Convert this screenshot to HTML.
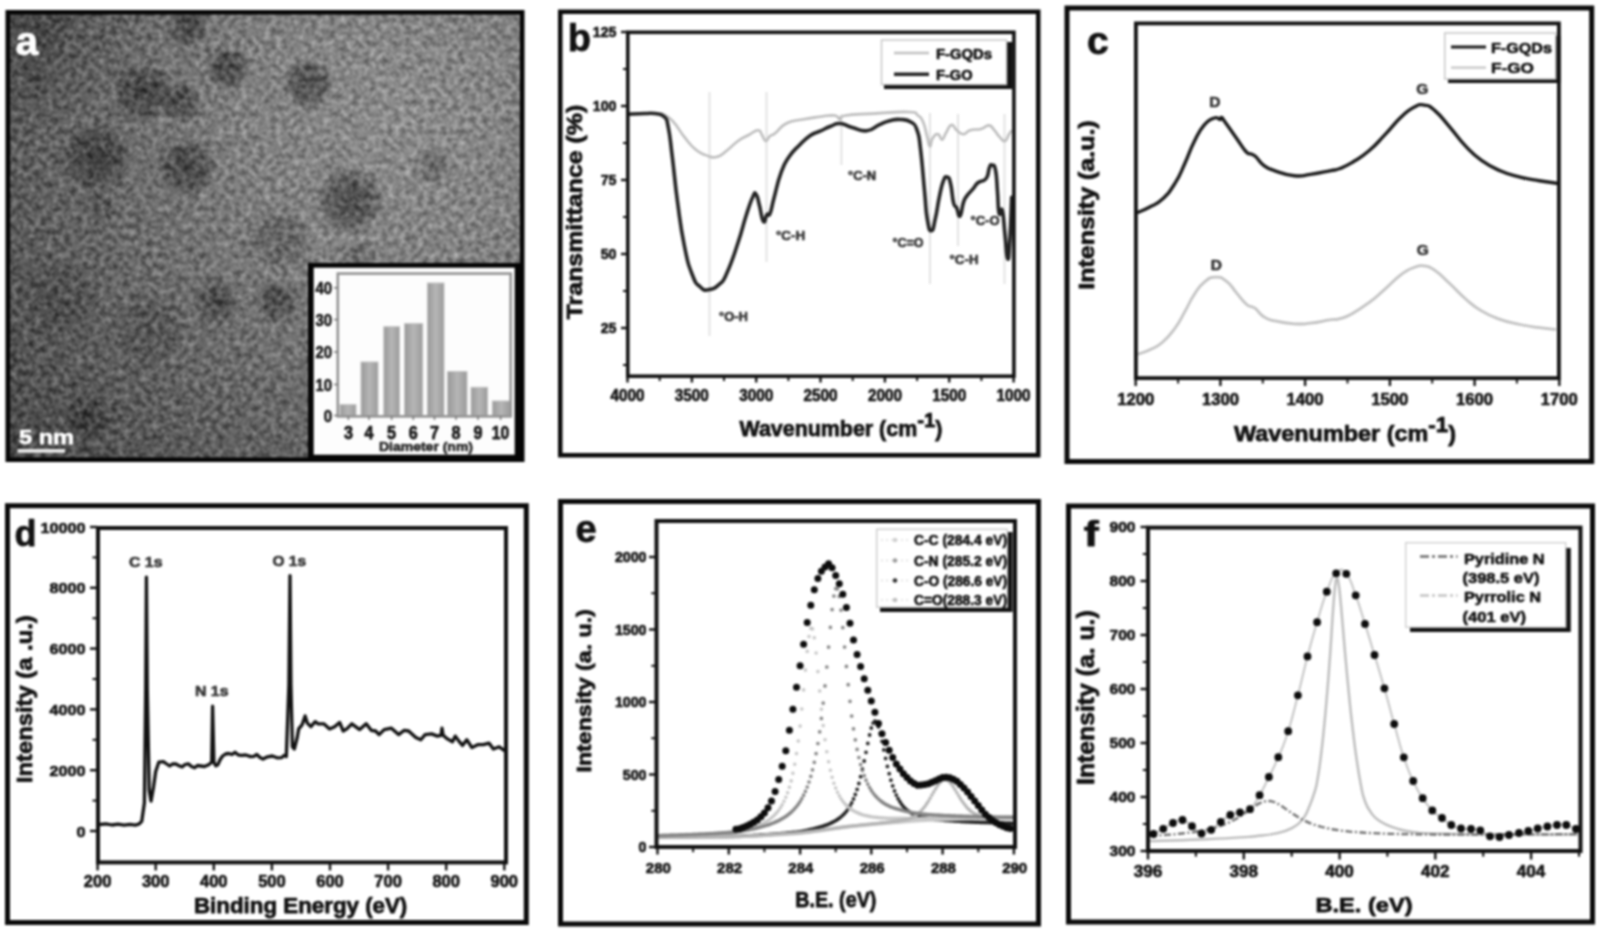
<!DOCTYPE html>
<html lang="en"><head><meta charset="utf-8"><title>F-GQDs characterization figure</title>
<style>
html,body{margin:0;padding:0;background:#fff;}
body{width:1600px;height:932px;overflow:hidden;font-family:'Liberation Sans', sans-serif;}
svg{display:block;font-family:'Liberation Sans', sans-serif;filter:blur(0.85px);}
</style></head><body>
<svg width="1600" height="932" viewBox="0 0 1600 932">
<defs>
<radialGradient id="temg" gradientUnits="userSpaceOnUse" cx="405" cy="120" r="530">
 <stop offset="0" stop-color="#8c8c8c"/><stop offset="0.3" stop-color="#808080"/>
 <stop offset="0.55" stop-color="#6b6b6b"/><stop offset="0.8" stop-color="#575757"/><stop offset="1" stop-color="#464646"/>
</radialGradient>
<radialGradient id="blobm"><stop offset="0" stop-color="#222" stop-opacity="0.5"/>
 <stop offset="0.55" stop-color="#262626" stop-opacity="0.36"/><stop offset="1" stop-color="#444" stop-opacity="0"/></radialGradient>
<radialGradient id="vig" cx="0" cy="0" r="1"><stop offset="0" stop-color="#222" stop-opacity="0.3"/><stop offset="1" stop-color="#222" stop-opacity="0"/></radialGradient>
<radialGradient id="blob"><stop offset="0" stop-color="#222" stop-opacity="0.55"/>
 <stop offset="0.6" stop-color="#262626" stop-opacity="0.43"/><stop offset="0.85" stop-color="#333" stop-opacity="0.2"/><stop offset="1" stop-color="#444" stop-opacity="0"/></radialGradient>
<radialGradient id="blobf"><stop offset="0" stop-color="#3a3a3a" stop-opacity="0.38"/>
 <stop offset="0.6" stop-color="#3a3a3a" stop-opacity="0.28"/><stop offset="1" stop-color="#444" stop-opacity="0"/></radialGradient>
<filter id="grain" x="0" y="0" width="100%" height="100%" color-interpolation-filters="sRGB">
 <feTurbulence type="fractalNoise" baseFrequency="0.17 0.17" numOctaves="2" seed="7" result="t"/>
 <feColorMatrix in="t" type="matrix" values="1 0 0 0 0  1 0 0 0 0  1 0 0 0 0  0 0 0 0 1" result="g"/>
 <feGaussianBlur in="g" stdDeviation="0.55" result="gb"/>
 <feComposite in="SourceGraphic" in2="gb" operator="arithmetic" k1="0" k2="1" k3="0.5" k4="-0.25"/>
</filter>
<linearGradient id="barg"><stop offset="0" stop-color="#989898"/><stop offset="0.5" stop-color="#b6b6b6"/><stop offset="1" stop-color="#9a9a9a"/></linearGradient>
<clipPath id="clipa"><rect x="9" y="13" width="512" height="446"/></clipPath>
</defs>
<g id="panel-a">
<g clip-path="url(#clipa)"><g filter="url(#grain)">
<rect x="5" y="9" width="520" height="454" fill="url(#temg)"/>
<rect x="5" y="9" width="160" height="140" fill="url(#vig)"/>
<circle cx="188" cy="26" r="22" fill="url(#blob)"/>
<circle cx="228" cy="68" r="23" fill="url(#blob)"/>
<circle cx="143" cy="92" r="31" fill="url(#blob)"/>
<circle cx="180" cy="101" r="21" fill="url(#blob)"/>
<circle cx="308" cy="84" r="26" fill="url(#blob)"/>
<circle cx="97" cy="157" r="36" fill="url(#blob)"/>
<circle cx="187" cy="167" r="31" fill="url(#blob)"/>
<circle cx="350" cy="200" r="35" fill="url(#blob)"/>
<circle cx="217" cy="301" r="25" fill="url(#blobm)"/>
<circle cx="277" cy="301" r="25" fill="url(#blobm)"/>
<circle cx="88" cy="418" r="28" fill="url(#blobm)"/>
<circle cx="433" cy="165" r="20" fill="url(#blobf)"/>
<circle cx="280" cy="238" r="34" fill="url(#blobf)"/>
<circle cx="360" cy="257" r="17" fill="url(#blobf)"/>
<circle cx="100" cy="208" r="18" fill="url(#blobf)"/>
<circle cx="33" cy="77" r="20" fill="url(#blobf)"/>
<circle cx="45" cy="30" r="30" fill="url(#blobf)"/>
<circle cx="150" cy="330" r="40" fill="url(#blobf)"/>
<circle cx="60" cy="300" r="45" fill="url(#blobf)"/>
</g></g>
<rect x="7.80" y="12.30" width="514.40" height="447.40" fill="none" stroke="#050505" stroke-width="4.6"/>
<text x="15.5" y="54.5" font-size="41" font-weight="bold" fill="#fff" stroke="#fff" stroke-width="0.75" stroke-linejoin="round" text-anchor="start" >a</text>
<text x="19" y="444" font-size="21" font-weight="bold" fill="#fff" stroke="#fff" stroke-width="0.75" stroke-linejoin="round" text-anchor="start" textLength="55" lengthAdjust="spacingAndGlyphs" >5 nm</text>
<rect x="17.5" y="449" width="47.5" height="3.8" fill="#e6e6e6"/>
<rect x="308" y="263" width="216" height="199" fill="#050505"/>
<rect x="313.7" y="267.7" width="201" height="187" fill="#fdfdfd"/>
<rect x="340" y="404.6" width="16.0" height="11.0" fill="url(#barg)" stroke="#c4c4c4" stroke-width="1"/>
<rect x="361" y="362" width="17.0" height="53.6" fill="url(#barg)" stroke="#c4c4c4" stroke-width="1"/>
<rect x="383.8" y="326.7" width="15.8" height="88.9" fill="url(#barg)" stroke="#c4c4c4" stroke-width="1"/>
<rect x="404.5" y="323.6" width="18.2" height="92.0" fill="url(#barg)" stroke="#c4c4c4" stroke-width="1"/>
<rect x="427.4" y="283" width="16.6" height="132.6" fill="url(#barg)" stroke="#c4c4c4" stroke-width="1"/>
<rect x="447.5" y="371.5" width="19.5" height="44.1" fill="url(#barg)" stroke="#c4c4c4" stroke-width="1"/>
<rect x="471" y="387.3" width="16.6" height="28.3" fill="url(#barg)" stroke="#c4c4c4" stroke-width="1"/>
<rect x="492.3" y="401" width="17.7" height="14.6" fill="url(#barg)" stroke="#c4c4c4" stroke-width="1"/>
<rect x="337.8" y="273.6" width="172.9" height="142.8" fill="none" stroke="#939393" stroke-width="2.6"/>
<text x="332" y="293.8" font-size="17" font-weight="bold" fill="#1a1a1a" stroke="#1a1a1a" stroke-width="0.6" stroke-linejoin="round" text-anchor="end" textLength="16.5" lengthAdjust="spacingAndGlyphs" >40</text>
<line x1="334" y1="287.8" x2="338" y2="287.8" stroke="#777" stroke-width="1.5"/>
<text x="332" y="325.6" font-size="17" font-weight="bold" fill="#1a1a1a" stroke="#1a1a1a" stroke-width="0.6" stroke-linejoin="round" text-anchor="end" textLength="16.5" lengthAdjust="spacingAndGlyphs" >30</text>
<line x1="334" y1="319.6" x2="338" y2="319.6" stroke="#777" stroke-width="1.5"/>
<text x="332" y="358" font-size="17" font-weight="bold" fill="#1a1a1a" stroke="#1a1a1a" stroke-width="0.6" stroke-linejoin="round" text-anchor="end" textLength="16.5" lengthAdjust="spacingAndGlyphs" >20</text>
<line x1="334" y1="352" x2="338" y2="352" stroke="#777" stroke-width="1.5"/>
<text x="332" y="390.5" font-size="17" font-weight="bold" fill="#1a1a1a" stroke="#1a1a1a" stroke-width="0.6" stroke-linejoin="round" text-anchor="end" textLength="16.5" lengthAdjust="spacingAndGlyphs" >10</text>
<line x1="334" y1="384.5" x2="338" y2="384.5" stroke="#777" stroke-width="1.5"/>
<text x="332" y="421.5" font-size="17" font-weight="bold" fill="#1a1a1a" stroke="#1a1a1a" stroke-width="0.6" stroke-linejoin="round" text-anchor="end" textLength="8.3" lengthAdjust="spacingAndGlyphs" >0</text>
<line x1="334" y1="415.5" x2="338" y2="415.5" stroke="#777" stroke-width="1.5"/>
<text x="348.4" y="438.5" font-size="18" font-weight="bold" fill="#1a1a1a" stroke="#1a1a1a" stroke-width="0.75" stroke-linejoin="round" text-anchor="middle" textLength="9" lengthAdjust="spacingAndGlyphs" >3</text>
<line x1="348.4" y1="416" x2="348.4" y2="420" stroke="#777" stroke-width="1.5"/>
<text x="369" y="438.5" font-size="18" font-weight="bold" fill="#1a1a1a" stroke="#1a1a1a" stroke-width="0.75" stroke-linejoin="round" text-anchor="middle" textLength="9" lengthAdjust="spacingAndGlyphs" >4</text>
<line x1="369" y1="416" x2="369" y2="420" stroke="#777" stroke-width="1.5"/>
<text x="391.6" y="438.5" font-size="18" font-weight="bold" fill="#1a1a1a" stroke="#1a1a1a" stroke-width="0.75" stroke-linejoin="round" text-anchor="middle" textLength="9" lengthAdjust="spacingAndGlyphs" >5</text>
<line x1="391.6" y1="416" x2="391.6" y2="420" stroke="#777" stroke-width="1.5"/>
<text x="413.3" y="438.5" font-size="18" font-weight="bold" fill="#1a1a1a" stroke="#1a1a1a" stroke-width="0.75" stroke-linejoin="round" text-anchor="middle" textLength="9" lengthAdjust="spacingAndGlyphs" >6</text>
<line x1="413.3" y1="416" x2="413.3" y2="420" stroke="#777" stroke-width="1.5"/>
<text x="434.5" y="438.5" font-size="18" font-weight="bold" fill="#1a1a1a" stroke="#1a1a1a" stroke-width="0.75" stroke-linejoin="round" text-anchor="middle" textLength="9" lengthAdjust="spacingAndGlyphs" >7</text>
<line x1="434.5" y1="416" x2="434.5" y2="420" stroke="#777" stroke-width="1.5"/>
<text x="456" y="438.5" font-size="18" font-weight="bold" fill="#1a1a1a" stroke="#1a1a1a" stroke-width="0.75" stroke-linejoin="round" text-anchor="middle" textLength="9" lengthAdjust="spacingAndGlyphs" >8</text>
<line x1="456" y1="416" x2="456" y2="420" stroke="#777" stroke-width="1.5"/>
<text x="478" y="438.5" font-size="18" font-weight="bold" fill="#1a1a1a" stroke="#1a1a1a" stroke-width="0.75" stroke-linejoin="round" text-anchor="middle" textLength="9" lengthAdjust="spacingAndGlyphs" >9</text>
<line x1="478" y1="416" x2="478" y2="420" stroke="#777" stroke-width="1.5"/>
<text x="500.6" y="438.5" font-size="18" font-weight="bold" fill="#1a1a1a" stroke="#1a1a1a" stroke-width="0.75" stroke-linejoin="round" text-anchor="middle" textLength="17.5" lengthAdjust="spacingAndGlyphs" >10</text>
<line x1="500.6" y1="416" x2="500.6" y2="420" stroke="#777" stroke-width="1.5"/>
<text x="426" y="451" font-size="12.5" font-weight="bold" fill="#2a2a2a" stroke="#2a2a2a" stroke-width="0.6" stroke-linejoin="round" text-anchor="middle" textLength="94" lengthAdjust="spacingAndGlyphs" >Diameter (nm)</text>
</g>
<g id="panel-b">
<rect x="560.25" y="11.75" width="478.00" height="443.50" fill="none" stroke="#0a0a0a" stroke-width="4.5"/>
<line x1="709.5" y1="92" x2="709.5" y2="336" stroke="#e0e0e0" stroke-width="1.8"/>
<line x1="766.5" y1="92" x2="766.5" y2="262" stroke="#e0e0e0" stroke-width="1.8"/>
<line x1="841.4" y1="114" x2="841.4" y2="165" stroke="#e0e0e0" stroke-width="1.8"/>
<line x1="930" y1="113" x2="930" y2="284" stroke="#e0e0e0" stroke-width="1.8"/>
<line x1="958" y1="114" x2="958" y2="246" stroke="#e0e0e0" stroke-width="1.8"/>
<line x1="1004.5" y1="114" x2="1004.5" y2="284" stroke="#e0e0e0" stroke-width="1.8"/>
<path d="M629.4,114.1 C636.2,114.0 645.6,113.4 654.9,113.6 C664.2,113.8 659.2,112.4 664.2,114.7 C669.2,117.0 668.2,116.3 673.6,122.2 C679.0,128.1 678.6,129.8 684.3,136.9 C690.0,144.0 689.3,144.1 695.0,149.0 C700.7,153.9 700.1,153.0 705.8,155.1 C711.5,157.2 710.8,158.3 716.5,157.0 C722.2,155.7 721.5,154.6 727.2,150.3 C732.9,146.0 732.3,145.1 738.0,141.0 C743.7,136.9 743.4,137.9 748.7,135.0 C754.0,132.1 754.5,130.2 758.0,130.2 C761.5,130.2 760.0,132.1 762.0,135.0 C764.0,137.9 763.5,140.7 765.6,141.0 C767.7,141.3 767.4,138.2 770.0,136.1 C772.6,134.0 771.2,136.4 775.5,133.0 C779.8,129.6 779.1,127.1 786.2,123.5 C793.3,119.9 793.3,121.3 802.3,119.5 C811.3,117.7 811.4,117.9 820.0,116.8 C828.6,115.7 829.3,114.8 834.7,115.5 C840.1,116.2 837.2,119.5 840.1,119.5 C843.0,119.5 836.6,117.1 845.5,115.5 C854.4,113.9 856.8,114.5 873.6,113.6 C890.4,112.7 896.7,111.5 908.5,112.0 C920.3,112.5 914.0,112.8 917.9,115.5 C921.8,118.2 920.7,116.5 923.2,122.2 C925.7,127.9 925.4,130.5 927.2,136.9 C929.0,143.3 928.5,145.9 929.9,146.3 C931.3,146.7 930.4,141.5 932.6,138.3 C934.8,135.1 935.5,133.9 938.0,134.2 C940.5,134.5 939.9,139.9 942.0,139.6 C944.1,139.3 943.5,136.8 946.0,132.9 C948.5,129.0 948.5,125.6 951.4,124.9 C954.3,124.2 953.5,127.7 956.7,130.2 C959.9,132.7 959.8,134.2 963.4,134.2 C967.0,134.2 965.4,131.6 970.1,130.2 C974.8,128.8 975.9,130.2 980.9,128.9 C985.9,127.6 985.3,125.1 988.9,125.4 C992.5,125.7 991.4,127.1 994.3,130.2 C997.2,133.3 996.7,134.0 999.6,136.9 C1002.5,139.8 1002.5,141.7 1005.0,141.0 C1007.5,140.3 1007.2,137.1 1009.0,134.2 C1010.8,131.3 1011.0,131.3 1011.7,130.2" fill="none" stroke="#bdbdbd" stroke-width="2.6" stroke-linejoin="round"/>
<path d="M629.4,114.1 C633.6,113.9 638.2,113.6 645.0,113.5 C651.8,113.4 649.8,112.7 654.9,113.6 C660.0,114.5 660.6,113.1 664.2,116.8 C667.8,120.5 666.1,116.8 668.3,127.5 C670.5,138.2 669.8,137.0 672.3,157.0 C674.8,177.0 674.4,179.0 677.6,202.6 C680.8,226.2 680.4,226.2 684.3,245.5 C688.2,264.8 688.1,263.9 692.4,275.0 C696.7,286.1 696.1,283.1 700.4,287.0 C704.7,290.9 703.5,290.4 708.5,289.7 C713.5,289.0 714.2,289.0 719.2,284.4 C724.2,279.8 722.2,283.4 727.2,272.3 C732.2,261.2 733.0,257.8 738.0,242.8 C743.0,227.8 742.1,228.2 746.0,216.0 C749.9,203.8 750.0,202.9 752.7,197.2 C755.4,191.5 754.4,192.4 756.2,194.6 C758.0,196.8 757.5,198.2 759.4,205.3 C761.3,212.4 761.4,218.9 763.4,221.4 C765.4,223.9 765.1,216.9 766.9,214.7 C768.7,212.5 768.2,218.0 770.1,213.3 C772.0,208.6 771.3,207.9 774.2,197.2 C777.1,186.5 777.0,183.8 780.9,173.1 C784.8,162.4 783.9,164.5 788.9,157.0 C793.9,149.5 793.9,150.7 799.6,145.0 C805.3,139.3 804.9,139.3 810.3,135.6 C815.7,131.9 814.6,133.7 820.0,131.2 C825.4,128.7 825.3,128.3 830.7,126.2 C836.1,124.1 834.4,123.2 840.1,123.5 C845.8,123.8 845.1,125.6 852.2,127.5 C859.3,129.4 859.8,131.5 866.9,130.8 C874.0,130.1 872.9,127.6 879.0,124.9 C885.1,122.2 884.0,122.2 889.7,120.8 C895.4,119.4 894.7,119.1 900.4,119.5 C906.1,119.9 906.8,119.3 911.2,122.2 C915.6,125.1 914.5,123.1 917.0,130.2 C919.5,137.3 918.5,132.5 920.5,149.0 C922.5,165.5 922.8,173.3 924.6,191.9 C926.4,210.5 925.4,208.3 927.2,218.7 C929.0,229.1 929.1,230.8 931.3,230.8 C933.5,230.8 933.2,227.7 935.3,218.7 C937.4,209.7 937.2,207.2 939.3,197.2 C941.4,187.2 941.2,186.6 943.3,181.2 C945.4,175.8 945.4,176.4 947.3,177.1 C949.2,177.8 948.9,177.0 950.6,183.8 C952.3,190.6 951.9,196.1 953.5,202.6 C955.1,209.1 955.0,204.4 956.7,208.0 C958.4,211.6 958.2,217.4 960.0,216.0 C961.8,214.6 961.6,208.0 963.4,202.6 C965.2,197.2 964.4,199.5 966.9,195.9 C969.4,192.3 969.8,192.8 972.8,189.2 C975.8,185.6 974.6,185.4 978.2,182.5 C981.8,179.6 983.2,182.4 986.2,178.5 C989.2,174.6 987.8,171.3 989.4,167.7 C991.0,164.1 990.4,164.4 992.1,165.1 C993.8,165.8 994.2,163.3 995.6,170.4 C997.0,177.5 996.6,180.5 997.5,191.9 C998.4,203.3 997.8,208.3 999.1,213.3 C1000.4,218.3 1000.7,204.9 1002.3,210.6 C1003.9,216.3 1003.6,221.9 1005.0,234.8 C1006.4,247.7 1006.4,257.5 1007.7,258.9 C1009.0,260.3 1008.7,256.6 1009.8,240.1 C1010.9,223.6 1011.2,208.6 1011.7,197.2" fill="none" stroke="#222" stroke-width="3.6" stroke-linejoin="round" stroke-linecap="round"/>
<rect x="627.80" y="32.30" width="386.10" height="343.90" fill="none" stroke="#111" stroke-width="3.6"/>
<line x1="621.0" y1="32.0" x2="627.0" y2="32.0" stroke="#111" stroke-width="2.4"/>
<line x1="621.0" y1="106.0" x2="627.0" y2="106.0" stroke="#111" stroke-width="2.4"/>
<line x1="621.0" y1="180.0" x2="627.0" y2="180.0" stroke="#111" stroke-width="2.4"/>
<line x1="621.0" y1="254.0" x2="627.0" y2="254.0" stroke="#111" stroke-width="2.4"/>
<line x1="621.0" y1="328.0" x2="627.0" y2="328.0" stroke="#111" stroke-width="2.4"/>
<line x1="623.0" y1="69.0" x2="627.0" y2="69.0" stroke="#111" stroke-width="2"/>
<line x1="623.0" y1="143.0" x2="627.0" y2="143.0" stroke="#111" stroke-width="2"/>
<line x1="623.0" y1="217.0" x2="627.0" y2="217.0" stroke="#111" stroke-width="2"/>
<line x1="623.0" y1="291.0" x2="627.0" y2="291.0" stroke="#111" stroke-width="2"/>
<line x1="623.0" y1="365.0" x2="627.0" y2="365.0" stroke="#111" stroke-width="2"/>
<line x1="627.5" y1="377.0" x2="627.5" y2="382.5" stroke="#111" stroke-width="2.4"/>
<line x1="691.9" y1="377.0" x2="691.9" y2="382.5" stroke="#111" stroke-width="2.4"/>
<line x1="756.2" y1="377.0" x2="756.2" y2="382.5" stroke="#111" stroke-width="2.4"/>
<line x1="820.5" y1="377.0" x2="820.5" y2="382.5" stroke="#111" stroke-width="2.4"/>
<line x1="884.9" y1="377.0" x2="884.9" y2="382.5" stroke="#111" stroke-width="2.4"/>
<line x1="949.2" y1="377.0" x2="949.2" y2="382.5" stroke="#111" stroke-width="2.4"/>
<line x1="1013.6" y1="377.0" x2="1013.6" y2="382.5" stroke="#111" stroke-width="2.4"/>
<line x1="659.7" y1="377.0" x2="659.7" y2="381.0" stroke="#111" stroke-width="2"/>
<line x1="724.0" y1="377.0" x2="724.0" y2="381.0" stroke="#111" stroke-width="2"/>
<line x1="788.4" y1="377.0" x2="788.4" y2="381.0" stroke="#111" stroke-width="2"/>
<line x1="852.7" y1="377.0" x2="852.7" y2="381.0" stroke="#111" stroke-width="2"/>
<line x1="917.1" y1="377.0" x2="917.1" y2="381.0" stroke="#111" stroke-width="2"/>
<line x1="981.4" y1="377.0" x2="981.4" y2="381.0" stroke="#111" stroke-width="2"/>
<text x="616.5" y="37.4" font-size="15" font-weight="bold" fill="#111" stroke="#111" stroke-width="0.6" stroke-linejoin="round" text-anchor="end" textLength="23.700000000000003" lengthAdjust="spacingAndGlyphs" >125</text>
<text x="616.5" y="111.4" font-size="15" font-weight="bold" fill="#111" stroke="#111" stroke-width="0.6" stroke-linejoin="round" text-anchor="end" textLength="23.700000000000003" lengthAdjust="spacingAndGlyphs" >100</text>
<text x="616.5" y="185.4" font-size="15" font-weight="bold" fill="#111" stroke="#111" stroke-width="0.6" stroke-linejoin="round" text-anchor="end" textLength="15.8" lengthAdjust="spacingAndGlyphs" >75</text>
<text x="616.5" y="259.4" font-size="15" font-weight="bold" fill="#111" stroke="#111" stroke-width="0.6" stroke-linejoin="round" text-anchor="end" textLength="15.8" lengthAdjust="spacingAndGlyphs" >50</text>
<text x="616.5" y="333.4" font-size="15" font-weight="bold" fill="#111" stroke="#111" stroke-width="0.6" stroke-linejoin="round" text-anchor="end" textLength="15.8" lengthAdjust="spacingAndGlyphs" >25</text>
<text x="627.5" y="400.6" font-size="15.7" font-weight="bold" fill="#111" stroke="#111" stroke-width="0.6" stroke-linejoin="round" text-anchor="middle" textLength="34" lengthAdjust="spacingAndGlyphs" >4000</text>
<text x="691.85" y="400.6" font-size="15.7" font-weight="bold" fill="#111" stroke="#111" stroke-width="0.6" stroke-linejoin="round" text-anchor="middle" textLength="34" lengthAdjust="spacingAndGlyphs" >3500</text>
<text x="756.2" y="400.6" font-size="15.7" font-weight="bold" fill="#111" stroke="#111" stroke-width="0.6" stroke-linejoin="round" text-anchor="middle" textLength="34" lengthAdjust="spacingAndGlyphs" >3000</text>
<text x="820.55" y="400.6" font-size="15.7" font-weight="bold" fill="#111" stroke="#111" stroke-width="0.6" stroke-linejoin="round" text-anchor="middle" textLength="34" lengthAdjust="spacingAndGlyphs" >2500</text>
<text x="884.9" y="400.6" font-size="15.7" font-weight="bold" fill="#111" stroke="#111" stroke-width="0.6" stroke-linejoin="round" text-anchor="middle" textLength="34" lengthAdjust="spacingAndGlyphs" >2000</text>
<text x="949.25" y="400.6" font-size="15.7" font-weight="bold" fill="#111" stroke="#111" stroke-width="0.6" stroke-linejoin="round" text-anchor="middle" textLength="34" lengthAdjust="spacingAndGlyphs" >1500</text>
<text x="1013.6" y="400.6" font-size="15.7" font-weight="bold" fill="#111" stroke="#111" stroke-width="0.6" stroke-linejoin="round" text-anchor="middle" textLength="34" lengthAdjust="spacingAndGlyphs" >1000</text>
<text x="567.8" y="51" font-size="38" font-weight="bold" fill="#111" stroke="#111" stroke-width="0.75" stroke-linejoin="round" text-anchor="start" >b</text>
<text x="582" y="212" font-size="22" font-weight="bold" fill="#111" stroke="#111" stroke-width="0.75" stroke-linejoin="round" text-anchor="middle" textLength="214.5" lengthAdjust="spacingAndGlyphs" transform="rotate(-90 582 212)" >Transmittance (%)</text>
<text x="739.5" y="436.3" font-size="22" font-weight="bold" fill="#111" stroke="#111" stroke-width="0.75" textLength="203" lengthAdjust="spacingAndGlyphs">Wavenumber (cm<tspan dy="-9.5" font-size="21">-1</tspan><tspan dy="9.5">)</tspan></text>
<text x="719" y="320.5" font-size="13" font-weight="bold" fill="#333" stroke="#333" stroke-width="0.6" stroke-linejoin="round" text-anchor="start" textLength="29" lengthAdjust="spacingAndGlyphs" >°O-H</text>
<text x="776" y="240" font-size="13" font-weight="bold" fill="#333" stroke="#333" stroke-width="0.6" stroke-linejoin="round" text-anchor="start" textLength="29" lengthAdjust="spacingAndGlyphs" >°C-H</text>
<text x="848" y="179.5" font-size="13" font-weight="bold" fill="#333" stroke="#333" stroke-width="0.6" stroke-linejoin="round" text-anchor="start" textLength="28" lengthAdjust="spacingAndGlyphs" >°C-N</text>
<text x="892.5" y="246.5" font-size="13" font-weight="bold" fill="#333" stroke="#333" stroke-width="0.6" stroke-linejoin="round" text-anchor="start" textLength="31" lengthAdjust="spacingAndGlyphs" >°C=O</text>
<text x="949.5" y="264" font-size="13" font-weight="bold" fill="#333" stroke="#333" stroke-width="0.6" stroke-linejoin="round" text-anchor="start" textLength="29" lengthAdjust="spacingAndGlyphs" >°C-H</text>
<text x="970.5" y="225.3" font-size="13" font-weight="bold" fill="#333" stroke="#333" stroke-width="0.6" stroke-linejoin="round" text-anchor="start" textLength="29" lengthAdjust="spacingAndGlyphs" >°C-O</text>
<rect x="884" y="42" width="128" height="47" fill="#111"/>
<rect x="881.5" y="40" width="125" height="44.5" fill="#fff" stroke="#c4c4c4" stroke-width="1.4"/>
<line x1="894" y1="53" x2="929" y2="53" stroke="#c0c0c0" stroke-width="2.4"/>
<line x1="894" y1="74.3" x2="929" y2="74.3" stroke="#222" stroke-width="3.4"/>
<text x="936" y="58.5" font-size="14.5" font-weight="bold" fill="#111" stroke="#111" stroke-width="0.6" stroke-linejoin="round" text-anchor="start" textLength="56" lengthAdjust="spacingAndGlyphs" >F-GQDs</text>
<text x="936" y="79.5" font-size="14.5" font-weight="bold" fill="#111" stroke="#111" stroke-width="0.6" stroke-linejoin="round" text-anchor="start" textLength="36.5" lengthAdjust="spacingAndGlyphs" >F-GO</text>
</g>
<g id="panel-c">
<rect x="1067.00" y="8.00" width="524.70" height="453.50" fill="none" stroke="#0a0a0a" stroke-width="5"/>
<path d="M1137.1,354.4 C1140.4,353.2 1142.6,353.1 1149.3,349.9 C1156.0,346.7 1155.3,348.3 1162.2,342.5 C1169.1,336.7 1169.1,336.2 1175.1,328.0 C1181.1,319.8 1179.6,320.9 1184.7,311.9 C1189.8,302.9 1189.2,302.1 1194.4,294.2 C1199.6,286.3 1198.5,286.9 1204.1,282.3 C1209.7,277.7 1209.3,277.4 1215.3,277.1 C1221.3,276.8 1221.0,277.2 1226.6,281.3 C1232.2,285.4 1231.2,286.6 1236.3,292.6 C1241.4,298.6 1242.0,300.1 1245.9,303.8 C1249.8,307.5 1248.4,305.2 1251.0,306.5 C1253.6,307.8 1252.2,306.0 1255.6,308.7 C1259.0,311.4 1258.6,313.4 1263.7,316.7 C1268.8,320.0 1266.8,319.0 1274.9,320.9 C1283.0,322.8 1284.7,323.2 1294.2,323.8 C1303.7,324.4 1300.9,324.2 1310.4,323.2 C1319.9,322.2 1321.8,321.1 1329.7,319.9 C1337.6,318.7 1333.8,320.5 1340.0,318.7 C1346.2,316.9 1345.2,317.5 1352.9,313.2 C1360.6,308.9 1360.4,309.0 1369.0,302.6 C1377.6,296.2 1376.4,296.6 1385.0,289.1 C1393.6,281.6 1393.4,280.4 1401.1,274.6 C1408.8,268.8 1407.8,269.8 1414.0,267.5 C1420.2,265.2 1418.7,265.1 1424.3,265.9 C1429.9,266.7 1428.2,265.8 1434.9,270.4 C1441.6,275.0 1441.3,275.8 1449.4,283.3 C1457.5,290.8 1456.8,291.3 1465.4,298.7 C1474.0,306.1 1472.1,305.3 1481.5,310.9 C1490.9,316.5 1490.5,316.0 1500.8,319.6 C1511.1,323.2 1509.8,322.3 1520.1,324.5 C1530.4,326.7 1529.8,326.4 1539.4,327.7 C1549.0,329.0 1551.6,329.0 1556.0,329.5" fill="none" stroke="#c2c2c2" stroke-width="2.8" stroke-linejoin="round"/>
<path d="M1137.1,212.7 C1140.4,211.2 1142.6,210.8 1149.3,207.2 C1156.0,203.6 1155.3,205.6 1162.2,199.2 C1169.1,192.8 1169.1,192.6 1175.1,183.1 C1181.1,173.6 1179.6,174.9 1184.7,163.7 C1189.8,152.5 1189.2,151.5 1194.4,141.2 C1199.6,130.9 1198.8,131.3 1204.1,125.1 C1209.4,118.9 1210.2,119.5 1214.4,118.0 C1218.6,116.5 1218.1,119.6 1220.0,119.5 C1221.9,119.4 1220.2,116.9 1221.5,117.5 C1222.8,118.1 1221.1,116.4 1225.0,121.9 C1228.9,127.4 1230.7,130.1 1236.3,138.0 C1241.9,145.9 1242.0,147.2 1245.9,151.5 C1249.8,155.8 1248.4,152.6 1251.0,154.0 C1253.6,155.4 1252.2,153.6 1255.6,156.6 C1259.0,159.6 1258.6,161.5 1263.7,165.3 C1268.8,169.1 1266.8,168.0 1274.9,170.8 C1283.0,173.6 1284.7,174.7 1294.2,175.7 C1303.7,176.7 1300.9,175.7 1310.4,174.4 C1319.9,173.1 1321.8,172.4 1329.7,170.8 C1337.6,169.2 1333.8,170.8 1340.0,168.5 C1346.2,166.2 1345.2,166.7 1352.9,162.0 C1360.6,157.3 1360.4,158.1 1369.0,150.8 C1377.6,143.5 1376.4,143.7 1385.0,134.7 C1393.6,125.7 1393.4,124.3 1401.1,117.0 C1408.8,109.7 1407.8,110.5 1414.0,107.3 C1420.2,104.1 1418.7,104.2 1424.3,105.1 C1429.9,106.0 1428.2,104.9 1434.9,110.6 C1441.6,116.3 1441.3,117.2 1449.4,126.6 C1457.5,136.0 1456.8,136.9 1465.4,145.9 C1474.0,154.9 1472.1,153.7 1481.5,160.4 C1490.9,167.1 1490.5,166.5 1500.8,171.0 C1511.1,175.5 1509.8,174.5 1520.1,177.1 C1530.4,179.7 1529.1,179.0 1539.4,180.7 C1549.7,182.4 1553.6,182.8 1558.7,183.6" fill="none" stroke="#1a1a1a" stroke-width="3.4" stroke-linejoin="round"/>
<rect x="1135.90" y="23.40" width="423.00" height="354.70" fill="none" stroke="#111" stroke-width="3.8"/>
<line x1="1135.7" y1="379.0" x2="1135.7" y2="386.0" stroke="#111" stroke-width="2.4"/>
<line x1="1220.4" y1="379.0" x2="1220.4" y2="386.0" stroke="#111" stroke-width="2.4"/>
<line x1="1305.1" y1="379.0" x2="1305.1" y2="386.0" stroke="#111" stroke-width="2.4"/>
<line x1="1389.9" y1="379.0" x2="1389.9" y2="386.0" stroke="#111" stroke-width="2.4"/>
<line x1="1474.6" y1="379.0" x2="1474.6" y2="386.0" stroke="#111" stroke-width="2.4"/>
<line x1="1559.3" y1="379.0" x2="1559.3" y2="386.0" stroke="#111" stroke-width="2.4"/>
<line x1="1178.1" y1="379.0" x2="1178.1" y2="383.5" stroke="#111" stroke-width="2"/>
<line x1="1262.8" y1="379.0" x2="1262.8" y2="383.5" stroke="#111" stroke-width="2"/>
<line x1="1347.5" y1="379.0" x2="1347.5" y2="383.5" stroke="#111" stroke-width="2"/>
<line x1="1432.2" y1="379.0" x2="1432.2" y2="383.5" stroke="#111" stroke-width="2"/>
<line x1="1516.9" y1="379.0" x2="1516.9" y2="383.5" stroke="#111" stroke-width="2"/>
<text x="1135.7" y="404.8" font-size="16.5" font-weight="bold" fill="#111" stroke="#111" stroke-width="0.6" stroke-linejoin="round" text-anchor="middle" textLength="37" lengthAdjust="spacingAndGlyphs" >1200</text>
<text x="1220.42" y="404.8" font-size="16.5" font-weight="bold" fill="#111" stroke="#111" stroke-width="0.6" stroke-linejoin="round" text-anchor="middle" textLength="37" lengthAdjust="spacingAndGlyphs" >1300</text>
<text x="1305.14" y="404.8" font-size="16.5" font-weight="bold" fill="#111" stroke="#111" stroke-width="0.6" stroke-linejoin="round" text-anchor="middle" textLength="37" lengthAdjust="spacingAndGlyphs" >1400</text>
<text x="1389.86" y="404.8" font-size="16.5" font-weight="bold" fill="#111" stroke="#111" stroke-width="0.6" stroke-linejoin="round" text-anchor="middle" textLength="37" lengthAdjust="spacingAndGlyphs" >1500</text>
<text x="1474.58" y="404.8" font-size="16.5" font-weight="bold" fill="#111" stroke="#111" stroke-width="0.6" stroke-linejoin="round" text-anchor="middle" textLength="37" lengthAdjust="spacingAndGlyphs" >1600</text>
<text x="1559.3" y="404.8" font-size="16.5" font-weight="bold" fill="#111" stroke="#111" stroke-width="0.6" stroke-linejoin="round" text-anchor="middle" textLength="37" lengthAdjust="spacingAndGlyphs" >1700</text>
<text x="1087" y="54" font-size="39" font-weight="bold" fill="#111" stroke="#111" stroke-width="0.75" stroke-linejoin="round" text-anchor="start" >c</text>
<text x="1094.4" y="205" font-size="21.5" font-weight="bold" fill="#111" stroke="#111" stroke-width="0.75" stroke-linejoin="round" text-anchor="middle" textLength="169.4" lengthAdjust="spacingAndGlyphs" transform="rotate(-90 1094.4 205)" >Intensity (a.u.)</text>
<text x="1234" y="441" font-size="22.5" font-weight="bold" fill="#111" stroke="#111" stroke-width="0.75" textLength="222" lengthAdjust="spacingAndGlyphs">Wavenumber (cm<tspan dy="-9.5" font-size="21.5">-1</tspan><tspan dy="9.5">)</tspan></text>
<text x="1214.8" y="107.3" font-size="15.5" font-weight="bold" fill="#333" stroke="#333" stroke-width="0.6" stroke-linejoin="round" text-anchor="middle" >D</text>
<text x="1422.3" y="93.7" font-size="15.5" font-weight="bold" fill="#333" stroke="#333" stroke-width="0.6" stroke-linejoin="round" text-anchor="middle" >G</text>
<text x="1216.3" y="270" font-size="15.5" font-weight="bold" fill="#333" stroke="#333" stroke-width="0.6" stroke-linejoin="round" text-anchor="middle" >D</text>
<text x="1422.8" y="254.5" font-size="15.5" font-weight="bold" fill="#333" stroke="#333" stroke-width="0.6" stroke-linejoin="round" text-anchor="middle" >G</text>
<rect x="1448" y="36" width="112.5" height="47" fill="#111"/>
<rect x="1444.7" y="33" width="111" height="46" fill="#fff" stroke="#c4c4c4" stroke-width="1.4"/>
<line x1="1451" y1="47" x2="1486" y2="47" stroke="#1a1a1a" stroke-width="3.2"/>
<line x1="1451" y1="67.6" x2="1486" y2="67.6" stroke="#c6c6c6" stroke-width="2.4"/>
<text x="1491" y="52.6" font-size="15.5" font-weight="bold" fill="#111" stroke="#111" stroke-width="0.6" stroke-linejoin="round" text-anchor="start" textLength="61" lengthAdjust="spacingAndGlyphs" >F-GQDs</text>
<text x="1491" y="73" font-size="15.5" font-weight="bold" fill="#111" stroke="#111" stroke-width="0.6" stroke-linejoin="round" text-anchor="start" textLength="43" lengthAdjust="spacingAndGlyphs" >F-GO</text>
</g>
<g id="panel-d">
<rect x="7.50" y="505.70" width="518.80" height="416.80" fill="none" stroke="#0a0a0a" stroke-width="5"/>
<path d="M99.7,824.5 L106.0,823.8 L112.0,825.0 L118.0,824.2 L124.0,825.2 L130.0,824.4 L135.4,825.1 L139.0,824.0 L141.7,821.4 L144.4,802.7 L145.7,690.0 L146.4,577.1 L147.3,690.0 L149.2,790.2 L151.0,801.1 L153.5,787.1 L155.7,771.6 L158.8,762.2 L163.4,761.6 L166.0,763.5 L169.7,766.0 L172.5,764.0 L175.9,763.8 L179.0,765.8 L182.1,766.9 L185.0,764.5 L188.3,763.8 L191.5,766.5 L194.6,767.8 L197.5,765.5 L200.8,766.0 L204.5,766.5 L208.6,764.7 L211.7,762.2 L212.6,706.2 L213.9,762.2 L215.8,765.8 L217.9,764.7 L220.2,759.5 L222.6,756.0 L225.5,754.0 L228.8,753.5 L232.0,754.5 L235.0,752.3 L238.0,754.8 L241.2,755.4 L245.8,755.0 L250.6,756.6 L253.8,756.3 L256.8,754.5 L260.0,757.5 L263.0,759.1 L267.6,756.8 L272.3,756.0 L277.0,757.8 L281.7,757.6 L284.0,755.5 L286.3,756.6 L288.9,684.5 L290.0,575.6 L290.9,684.5 L292.4,746.7 L294.3,749.0 L297.2,737.5 L298.7,728.9 L302.2,724.6 L305.1,715.9 L307.3,723.1 L310.9,726.7 L315.2,721.7 L318.1,723.8 L323.8,723.8 L329.6,728.9 L334.6,726.7 L339.6,722.4 L343.2,731.0 L346.8,728.9 L351.8,723.8 L359.7,729.6 L366.2,723.8 L371.2,730.3 L375.6,731.0 L379.1,734.6 L384.2,729.6 L391.4,728.2 L398.6,734.6 L404.3,730.3 L408.6,731.0 L415.8,737.5 L420.8,739.7 L425.1,734.6 L431.6,733.9 L437.4,736.1 L441.0,735.3 L442.0,728.2 L443.1,735.3 L447.4,738.9 L452.5,741.8 L455.3,736.1 L458.9,741.1 L462.5,745.4 L466.8,739.7 L471.9,747.6 L477.6,744.7 L483.4,744.7 L489.1,743.2 L493.4,749.0 L499.2,746.8 L504.2,750.4" fill="none" stroke="#111" stroke-width="3.3" stroke-linejoin="round" stroke-linecap="round"/>
<rect x="98.00" y="528.00" width="408.00" height="334.40" fill="none" stroke="#111" stroke-width="4"/>
<line x1="90.0" y1="831.0" x2="97.0" y2="831.0" stroke="#111" stroke-width="2.4"/>
<line x1="90.0" y1="770.2" x2="97.0" y2="770.2" stroke="#111" stroke-width="2.4"/>
<line x1="90.0" y1="709.4" x2="97.0" y2="709.4" stroke="#111" stroke-width="2.4"/>
<line x1="90.0" y1="648.6" x2="97.0" y2="648.6" stroke="#111" stroke-width="2.4"/>
<line x1="90.0" y1="587.8" x2="97.0" y2="587.8" stroke="#111" stroke-width="2.4"/>
<line x1="90.0" y1="527.0" x2="97.0" y2="527.0" stroke="#111" stroke-width="2.4"/>
<line x1="92.5" y1="800.6" x2="97.0" y2="800.6" stroke="#111" stroke-width="2"/>
<line x1="92.5" y1="739.8" x2="97.0" y2="739.8" stroke="#111" stroke-width="2"/>
<line x1="92.5" y1="679.0" x2="97.0" y2="679.0" stroke="#111" stroke-width="2"/>
<line x1="92.5" y1="618.2" x2="97.0" y2="618.2" stroke="#111" stroke-width="2"/>
<line x1="92.5" y1="557.4" x2="97.0" y2="557.4" stroke="#111" stroke-width="2"/>
<line x1="97.6" y1="863.4" x2="97.6" y2="870.4" stroke="#111" stroke-width="2.4"/>
<line x1="155.7" y1="863.4" x2="155.7" y2="870.4" stroke="#111" stroke-width="2.4"/>
<line x1="213.8" y1="863.4" x2="213.8" y2="870.4" stroke="#111" stroke-width="2.4"/>
<line x1="271.9" y1="863.4" x2="271.9" y2="870.4" stroke="#111" stroke-width="2.4"/>
<line x1="330.0" y1="863.4" x2="330.0" y2="870.4" stroke="#111" stroke-width="2.4"/>
<line x1="388.1" y1="863.4" x2="388.1" y2="870.4" stroke="#111" stroke-width="2.4"/>
<line x1="446.2" y1="863.4" x2="446.2" y2="870.4" stroke="#111" stroke-width="2.4"/>
<line x1="504.3" y1="863.4" x2="504.3" y2="870.4" stroke="#111" stroke-width="2.4"/>
<text x="85.5" y="836.6" font-size="15.5" font-weight="bold" fill="#111" stroke="#111" stroke-width="0.6" stroke-linejoin="round" text-anchor="end" textLength="9" lengthAdjust="spacingAndGlyphs" >0</text>
<text x="85.5" y="775.8000000000001" font-size="15.5" font-weight="bold" fill="#111" stroke="#111" stroke-width="0.6" stroke-linejoin="round" text-anchor="end" textLength="36" lengthAdjust="spacingAndGlyphs" >2000</text>
<text x="85.5" y="715.0" font-size="15.5" font-weight="bold" fill="#111" stroke="#111" stroke-width="0.6" stroke-linejoin="round" text-anchor="end" textLength="36" lengthAdjust="spacingAndGlyphs" >4000</text>
<text x="85.5" y="654.2" font-size="15.5" font-weight="bold" fill="#111" stroke="#111" stroke-width="0.6" stroke-linejoin="round" text-anchor="end" textLength="36" lengthAdjust="spacingAndGlyphs" >6000</text>
<text x="85.5" y="593.4" font-size="15.5" font-weight="bold" fill="#111" stroke="#111" stroke-width="0.6" stroke-linejoin="round" text-anchor="end" textLength="36" lengthAdjust="spacingAndGlyphs" >8000</text>
<text x="85.5" y="532.6" font-size="15.5" font-weight="bold" fill="#111" stroke="#111" stroke-width="0.6" stroke-linejoin="round" text-anchor="end" textLength="45" lengthAdjust="spacingAndGlyphs" >10000</text>
<text x="97.6" y="887" font-size="16" font-weight="bold" fill="#111" stroke="#111" stroke-width="0.6" stroke-linejoin="round" text-anchor="middle" textLength="27.5" lengthAdjust="spacingAndGlyphs" >200</text>
<text x="155.7" y="887" font-size="16" font-weight="bold" fill="#111" stroke="#111" stroke-width="0.6" stroke-linejoin="round" text-anchor="middle" textLength="27.5" lengthAdjust="spacingAndGlyphs" >300</text>
<text x="213.8" y="887" font-size="16" font-weight="bold" fill="#111" stroke="#111" stroke-width="0.6" stroke-linejoin="round" text-anchor="middle" textLength="27.5" lengthAdjust="spacingAndGlyphs" >400</text>
<text x="271.9" y="887" font-size="16" font-weight="bold" fill="#111" stroke="#111" stroke-width="0.6" stroke-linejoin="round" text-anchor="middle" textLength="27.5" lengthAdjust="spacingAndGlyphs" >500</text>
<text x="330.0" y="887" font-size="16" font-weight="bold" fill="#111" stroke="#111" stroke-width="0.6" stroke-linejoin="round" text-anchor="middle" textLength="27.5" lengthAdjust="spacingAndGlyphs" >600</text>
<text x="388.1" y="887" font-size="16" font-weight="bold" fill="#111" stroke="#111" stroke-width="0.6" stroke-linejoin="round" text-anchor="middle" textLength="27.5" lengthAdjust="spacingAndGlyphs" >700</text>
<text x="446.20000000000005" y="887" font-size="16" font-weight="bold" fill="#111" stroke="#111" stroke-width="0.6" stroke-linejoin="round" text-anchor="middle" textLength="27.5" lengthAdjust="spacingAndGlyphs" >800</text>
<text x="504.30000000000007" y="887" font-size="16" font-weight="bold" fill="#111" stroke="#111" stroke-width="0.6" stroke-linejoin="round" text-anchor="middle" textLength="27.5" lengthAdjust="spacingAndGlyphs" >900</text>
<text x="14.5" y="546" font-size="36" font-weight="bold" fill="#111" stroke="#111" stroke-width="0.75" stroke-linejoin="round" text-anchor="start" >d</text>
<text x="32.4" y="699.2" font-size="22" font-weight="bold" fill="#111" stroke="#111" stroke-width="0.75" stroke-linejoin="round" text-anchor="middle" textLength="168" lengthAdjust="spacingAndGlyphs" transform="rotate(-90 32.4 699.2)" >Intensity (a .u.)</text>
<text x="194" y="913" font-size="21.8" font-weight="bold" fill="#111" stroke="#111" stroke-width="0.75" stroke-linejoin="round" text-anchor="start" textLength="213.3" lengthAdjust="spacingAndGlyphs" >Binding Energy (eV)</text>
<text x="129" y="566.5" font-size="15" font-weight="bold" fill="#333" stroke="#333" stroke-width="0.6" stroke-linejoin="round" text-anchor="start" textLength="33.5" lengthAdjust="spacingAndGlyphs" >C 1s</text>
<text x="272.5" y="566.3" font-size="15" font-weight="bold" fill="#333" stroke="#333" stroke-width="0.6" stroke-linejoin="round" text-anchor="start" textLength="33.5" lengthAdjust="spacingAndGlyphs" >O 1s</text>
<text x="195" y="696" font-size="15" font-weight="bold" fill="#333" stroke="#333" stroke-width="0.6" stroke-linejoin="round" text-anchor="start" textLength="33.5" lengthAdjust="spacingAndGlyphs" >N 1s</text>
</g>
<g id="panel-e">
<rect x="560.50" y="501.50" width="478.00" height="422.50" fill="none" stroke="#0a0a0a" stroke-width="5"/>
<path d="M657.5,837.2h0M659.3,837.2h0M661.1,837.2h0M662.8,837.2h0M664.6,837.2h0M666.4,837.2h0M668.2,837.1h0M670.0,837.1h0M671.8,837.1h0M673.5,837.1h0M675.3,837.1h0M677.1,837.1h0M678.9,837.0h0M680.7,837.0h0M682.4,837.0h0M684.2,837.0h0M686.0,837.0h0M687.8,837.0h0M689.6,836.9h0M691.4,836.9h0M693.1,836.9h0M694.9,836.9h0M696.7,836.9h0M698.5,836.8h0M700.3,836.8h0M702.1,836.8h0M703.8,836.8h0M705.6,836.8h0M707.4,836.7h0M709.2,836.7h0M711.0,836.7h0M712.7,836.7h0M714.5,836.6h0M716.3,836.6h0M718.1,836.6h0M719.9,836.6h0M721.7,836.5h0M723.4,836.5h0M725.2,836.5h0M727.0,836.5h0M728.8,836.4h0M730.6,836.4h0M732.3,836.4h0M734.1,836.3h0M735.9,836.3h0M737.7,836.3h0M739.5,836.3h0M741.3,836.2h0M743.0,836.1h0M744.8,836.0h0M746.6,835.9h0M748.4,835.8h0M750.2,835.7h0M751.9,835.6h0M753.7,835.5h0M755.5,835.4h0M757.3,835.3h0M759.1,835.1h0M760.9,835.0h0M762.6,834.9h0M764.4,834.8h0M766.2,834.7h0M768.0,834.6h0M769.8,834.4h0M771.5,834.3h0M773.3,834.2h0M775.1,834.1h0M776.9,833.9h0M778.7,833.8h0M780.5,833.6h0M782.2,833.5h0M784.0,833.4h0M785.8,833.2h0M787.6,833.0h0M789.4,832.9h0M791.2,832.7h0M792.9,832.5h0M794.7,832.4h0M796.5,832.2h0M798.3,832.0h0M800.1,831.8h0M801.8,831.4h0M803.6,831.1h0M805.4,830.7h0M807.2,830.3h0M809.0,829.9h0M810.8,829.5h0M812.5,829.1h0M814.3,828.6h0M816.1,828.2h0M817.9,827.7h0M819.7,827.2h0M821.4,826.6h0M823.2,826.1h0M825.0,825.4h0M826.8,824.8h0M828.6,824.1h0M830.4,823.3h0M832.1,822.5h0M833.9,821.6h0M835.7,820.6h0M837.5,819.5h0M839.3,818.2h0M841.0,816.8h0M842.8,815.2h0M844.6,813.4h0M846.4,811.3h0M848.2,808.9h0M850.0,806.0h0M851.7,802.8h0M853.5,798.9h0M855.3,794.5h0M857.1,789.4h0M858.9,783.5h0M860.6,776.7h0M862.4,769.2h0M864.2,761.0h0M866.0,752.3h0M867.8,743.4h0M869.6,735.0h0M871.3,728.0h0M873.1,723.1h0M874.9,721.2h0M876.7,722.5h0M878.5,726.8h0M880.3,733.4h0M882.0,741.3h0M883.8,749.9h0M885.6,758.4h0M887.4,766.4h0M889.2,773.7h0M890.9,780.2h0M892.7,785.9h0M894.5,790.9h0M896.3,795.1h0M898.1,798.7h0M899.9,801.7h0M901.6,804.3h0M903.4,806.6h0M905.2,808.5h0M907.0,810.1h0M908.8,811.4h0M910.5,812.6h0M912.3,813.6h0M914.1,814.4h0M915.9,815.2h0M917.7,815.9h0M919.5,816.4h0M921.2,816.9h0M923.0,817.4h0M924.8,817.8h0M926.6,818.2h0M928.4,818.5h0M930.1,818.8h0M931.9,819.0h0M933.7,819.3h0M935.5,819.5h0M937.3,819.7h0M939.1,819.8h0M940.8,820.0h0M942.6,820.1h0M944.4,820.3h0M946.2,820.4h0M948.0,820.5h0M949.7,820.6h0M951.5,820.7h0M953.3,820.8h0M955.1,821.0h0M956.9,821.1h0M958.7,821.2h0M960.4,821.3h0M962.2,821.5h0M964.0,821.6h0M965.8,821.7h0M967.6,821.8h0M969.4,821.8h0M971.1,821.9h0M972.9,822.0h0M974.7,822.1h0M976.5,822.2h0M978.3,822.2h0M980.0,822.3h0M981.8,822.4h0M983.6,822.4h0M985.4,822.5h0M987.2,822.6h0M989.0,822.6h0M990.7,822.7h0M992.5,822.7h0M994.3,822.8h0M996.1,822.9h0M997.9,822.9h0M999.6,823.0h0M1001.4,823.0h0M1003.2,823.0h0M1005.0,823.1h0M1006.8,823.1h0M1008.6,823.2h0M1010.3,823.2h0M1012.1,823.3h0M1013.9,823.3h0" fill="none" stroke="#222" stroke-width="3.8" stroke-linecap="round"/>
<path d="M658.0,837.0 C679.9,836.9 702.1,837.6 740.0,836.5 C777.9,835.4 770.7,835.7 800.0,833.0 C829.3,830.3 823.3,829.4 850.0,826.5 C876.7,823.6 873.3,823.9 900.0,822.0 C926.7,820.1 919.9,820.3 950.0,819.3 C980.1,818.3 996.2,818.6 1013.0,818.3" fill="none" stroke="#c9c9c9" stroke-width="3.4"/>
<path d="M657.5,835.8h0M659.3,835.7h0M661.1,835.7h0M662.8,835.6h0M664.6,835.6h0M666.4,835.6h0M668.2,835.5h0M670.0,835.5h0M671.8,835.4h0M673.5,835.4h0M675.3,835.3h0M677.1,835.3h0M678.9,835.2h0M680.7,835.2h0M682.4,835.1h0M684.2,835.0h0M686.0,835.0h0M687.8,834.9h0M689.6,834.9h0M691.4,834.8h0M693.1,834.7h0M694.9,834.6h0M696.7,834.6h0M698.5,834.5h0M700.3,834.4h0M702.1,834.3h0M703.8,834.2h0M705.6,834.1h0M707.4,834.0h0M709.2,833.9h0M711.0,833.8h0M712.7,833.7h0M714.5,833.6h0M716.3,833.5h0M718.1,833.3h0M719.9,833.2h0M721.7,833.0h0M723.4,832.9h0M725.2,832.7h0M727.0,832.5h0M728.8,832.4h0M730.6,832.2h0M732.3,832.0h0M734.1,831.7h0M735.9,831.5h0M737.7,831.3h0M739.5,831.0h0M741.3,830.6h0M743.0,830.2h0M744.8,829.8h0M746.6,829.4h0M748.4,828.9h0M750.2,828.4h0M751.9,827.8h0M753.7,827.3h0M755.5,826.6h0M757.3,826.0h0M759.1,825.2h0M760.9,824.4h0M762.6,823.6h0M764.4,822.6h0M766.2,821.6h0M768.0,820.5h0M769.8,819.2h0M771.5,817.8h0M773.3,816.2h0M775.1,814.4h0M776.9,812.5h0M778.7,810.2h0M780.5,807.6h0M782.2,804.7h0M784.0,801.3h0M785.8,797.3h0M787.6,792.7h0M789.4,787.3h0M791.2,780.9h0M792.9,773.3h0M794.7,764.3h0M796.5,753.6h0M798.3,741.0h0M800.1,726.1h0M801.8,709.0h0M803.6,689.9h0M805.4,670.1h0M807.2,651.4h0M809.0,636.5h0M810.8,628.4h0M812.5,628.9h0M814.3,637.8h0M816.1,653.0h0M817.9,671.6h0M819.7,691.0h0M821.4,709.3h0M823.2,725.6h0M825.0,739.8h0M826.8,751.8h0M828.6,761.8h0M830.4,770.2h0M832.1,777.3h0M833.9,783.2h0M835.7,788.1h0M837.5,792.3h0M839.3,795.8h0M841.0,798.8h0M842.8,801.3h0M844.6,803.5h0M846.4,805.4h0M848.2,807.0h0M850.0,808.4h0M851.7,809.7h0M853.5,810.8h0M855.3,811.8h0M857.1,812.6h0M858.9,813.4h0M860.6,814.1h0M862.4,814.7h0M864.2,815.2h0M866.0,815.6h0M867.8,816.0h0M869.6,816.4h0M871.3,816.7h0M873.1,817.0h0M874.9,817.2h0M876.7,817.4h0M878.5,817.6h0M880.3,817.7h0M882.0,817.9h0M883.8,818.0h0M885.6,818.1h0M887.4,818.2h0M889.2,818.2h0M890.9,818.3h0M892.7,818.3h0M894.5,818.3h0M896.3,818.3h0M898.1,818.3h0M899.9,818.3h0M901.6,818.4h0M903.4,818.4h0M905.2,818.4h0M907.0,818.5h0M908.8,818.5h0M910.5,818.5h0M912.3,818.5h0M914.1,818.5h0M915.9,818.5h0M917.7,818.5h0M919.5,818.5h0M921.2,818.4h0M923.0,818.4h0M924.8,818.4h0M926.6,818.4h0M928.4,818.3h0M930.1,818.3h0M931.9,818.3h0M933.7,818.2h0M935.5,818.2h0M937.3,818.1h0M939.1,818.1h0M940.8,818.1h0M942.6,818.0h0M944.4,818.0h0M946.2,817.9h0M948.0,817.8h0M949.7,817.8h0M951.5,817.8h0M953.3,817.8h0M955.1,817.8h0M956.9,817.8h0M958.7,817.8h0M960.4,817.8h0M962.2,817.8h0M964.0,817.8h0M965.8,817.8h0M967.6,817.8h0M969.4,817.8h0M971.1,817.8h0M972.9,817.8h0M974.7,817.8h0M976.5,817.8h0M978.3,817.8h0M980.0,817.8h0M981.8,817.8h0M983.6,817.8h0M985.4,817.8h0M987.2,817.8h0M989.0,817.8h0M990.7,817.7h0M992.5,817.7h0M994.3,817.7h0M996.1,817.7h0M997.9,817.7h0M999.6,817.7h0M1001.4,817.7h0M1003.2,817.7h0M1005.0,817.6h0M1006.8,817.6h0M1008.6,817.6h0M1010.3,817.6h0M1012.1,817.6h0M1013.9,817.6h0" fill="none" stroke="#c6c6c6" stroke-width="3.6" stroke-linecap="round"/>
<path d="M657.5,837.0h0M659.3,837.0h0M661.1,836.9h0M662.8,836.9h0M664.6,836.9h0M666.4,836.9h0M668.2,836.9h0M670.0,836.9h0M671.8,836.9h0M673.5,836.9h0M675.3,836.9h0M677.1,836.8h0M678.9,836.8h0M680.7,836.8h0M682.4,836.8h0M684.2,836.8h0M686.0,836.8h0M687.8,836.8h0M689.6,836.8h0M691.4,836.7h0M693.1,836.7h0M694.9,836.7h0M696.7,836.7h0M698.5,836.7h0M700.3,836.7h0M702.1,836.7h0M703.8,836.7h0M705.6,836.7h0M707.4,836.6h0M709.2,836.6h0M711.0,836.6h0M712.7,836.6h0M714.5,836.6h0M716.3,836.6h0M718.1,836.6h0M719.9,836.6h0M721.7,836.6h0M723.4,836.5h0M725.2,836.5h0M727.0,836.5h0M728.8,836.5h0M730.6,836.5h0M732.3,836.5h0M734.1,836.5h0M735.9,836.5h0M737.7,836.4h0M739.5,836.4h0M741.3,836.4h0M743.0,836.2h0M744.8,836.1h0M746.6,836.0h0M748.4,835.9h0M750.2,835.8h0M751.9,835.7h0M753.7,835.6h0M755.5,835.5h0M757.3,835.4h0M759.1,835.3h0M760.9,835.2h0M762.6,835.1h0M764.4,835.0h0M766.2,834.9h0M768.0,834.8h0M769.8,834.7h0M771.5,834.6h0M773.3,834.5h0M775.1,834.3h0M776.9,834.2h0M778.7,834.1h0M780.5,834.0h0M782.2,833.9h0M784.0,833.8h0M785.8,833.7h0M787.6,833.6h0M789.4,833.5h0M791.2,833.4h0M792.9,833.3h0M794.7,833.2h0M796.5,833.1h0M798.3,833.0h0M800.1,832.8h0M801.8,832.6h0M803.6,832.4h0M805.4,832.1h0M807.2,831.9h0M809.0,831.7h0M810.8,831.4h0M812.5,831.2h0M814.3,831.0h0M816.1,830.7h0M817.9,830.5h0M819.7,830.3h0M821.4,830.0h0M823.2,829.8h0M825.0,829.5h0M826.8,829.3h0M828.6,829.1h0M830.4,828.8h0M832.1,828.6h0M833.9,828.3h0M835.7,828.1h0M837.5,827.9h0M839.3,827.6h0M841.0,827.4h0M842.8,827.1h0M844.6,826.9h0M846.4,826.7h0M848.2,826.4h0M850.0,826.2h0M851.7,826.0h0M853.5,825.8h0M855.3,825.7h0M857.1,825.5h0M858.9,825.3h0M860.6,825.1h0M862.4,824.9h0M864.2,824.8h0M866.0,824.6h0M867.8,824.4h0M869.6,824.2h0M871.3,824.0h0M873.1,823.8h0M874.9,823.7h0M876.7,823.5h0M878.5,823.3h0M880.3,823.1h0M882.0,822.9h0M883.8,822.7h0M885.6,822.5h0M887.4,822.3h0M889.2,822.1h0M890.9,821.8h0M892.7,821.6h0M894.5,821.4h0M896.3,821.1h0M898.1,820.8h0M899.9,820.5h0M901.6,820.3h0M903.4,820.0h0M905.2,819.6h0M907.0,819.2h0M908.8,818.7h0M910.5,818.1h0M912.3,817.4h0M914.1,816.5h0M915.9,815.4h0M917.7,814.1h0M919.5,812.6h0M921.2,810.8h0M923.0,808.8h0M924.8,806.5h0M926.6,803.9h0M928.4,801.2h0M930.1,798.2h0M931.9,795.1h0M933.7,792.0h0M935.5,789.0h0M937.3,786.1h0M939.1,783.7h0M940.8,781.7h0M942.6,780.3h0M944.4,779.6h0M946.2,779.7h0M948.0,780.6h0M949.7,782.2h0M951.5,784.3h0M953.3,786.9h0M955.1,789.7h0M956.9,792.7h0M958.7,795.7h0M960.4,798.6h0M962.2,801.3h0M964.0,803.8h0M965.8,806.1h0M967.6,808.2h0M969.4,809.9h0M971.1,811.4h0M972.9,812.7h0M974.7,813.7h0M976.5,814.6h0M978.3,815.3h0M980.0,815.8h0M981.8,816.2h0M983.6,816.5h0M985.4,816.8h0M987.2,817.0h0M989.0,817.1h0M990.7,817.3h0M992.5,817.4h0M994.3,817.4h0M996.1,817.5h0M997.9,817.5h0M999.6,817.6h0M1001.4,817.6h0M1003.2,817.6h0M1005.0,817.6h0M1006.8,817.6h0M1008.6,817.7h0M1010.3,817.7h0M1012.1,817.7h0M1013.9,817.7h0" fill="none" stroke="#b4b4b4" stroke-width="3.6" stroke-linecap="round"/>
<path d="M657.5,835.5h0M659.3,835.5h0M661.1,835.5h0M662.8,835.4h0M664.6,835.4h0M666.4,835.3h0M668.2,835.3h0M670.0,835.2h0M671.8,835.2h0M673.5,835.1h0M675.3,835.1h0M677.1,835.0h0M678.9,834.9h0M680.7,834.9h0M682.4,834.8h0M684.2,834.8h0M686.0,834.7h0M687.8,834.6h0M689.6,834.6h0M691.4,834.5h0M693.1,834.4h0M694.9,834.4h0M696.7,834.3h0M698.5,834.2h0M700.3,834.1h0M702.1,834.0h0M703.8,834.0h0M705.6,833.9h0M707.4,833.8h0M709.2,833.7h0M711.0,833.6h0M712.7,833.5h0M714.5,833.4h0M716.3,833.3h0M718.1,833.2h0M719.9,833.1h0M721.7,832.9h0M723.4,832.8h0M725.2,832.7h0M727.0,832.6h0M728.8,832.4h0M730.6,832.3h0M732.3,832.1h0M734.1,831.9h0M735.9,831.8h0M737.7,831.6h0M739.5,831.4h0M741.3,831.1h0M743.0,830.8h0M744.8,830.5h0M746.6,830.2h0M748.4,829.9h0M750.2,829.5h0M751.9,829.1h0M753.7,828.8h0M755.5,828.4h0M757.3,827.9h0M759.1,827.5h0M760.9,827.0h0M762.6,826.5h0M764.4,826.0h0M766.2,825.5h0M768.0,824.9h0M769.8,824.3h0M771.5,823.6h0M773.3,823.0h0M775.1,822.2h0M776.9,821.4h0M778.7,820.6h0M780.5,819.6h0M782.2,818.6h0M784.0,817.6h0M785.8,816.4h0M787.6,815.1h0M789.4,813.7h0M791.2,812.2h0M792.9,810.5h0M794.7,808.6h0M796.5,806.5h0M798.3,804.2h0M800.1,801.6h0M801.8,798.6h0M803.6,795.2h0M805.4,791.3h0M807.2,787.0h0M809.0,782.0h0M810.8,776.3h0M812.5,769.8h0M814.3,762.3h0M816.1,753.6h0M817.9,743.5h0M819.7,731.8h0M821.4,718.4h0M823.2,703.1h0M825.0,685.9h0M826.8,667.0h0M828.6,647.1h0M830.4,627.3h0M832.1,609.6h0M833.9,596.0h0M835.7,588.6h0M837.5,588.8h0M839.3,596.4h0M841.0,610.1h0M842.8,627.6h0M844.6,647.0h0M846.4,666.4h0M848.2,684.7h0M850.0,701.3h0M851.7,716.0h0M853.5,728.8h0M855.3,739.8h0M857.1,749.4h0M858.9,757.5h0M860.6,764.5h0M862.4,770.5h0M864.2,775.7h0M866.0,780.2h0M867.8,784.1h0M869.6,787.5h0M871.3,790.4h0M873.1,793.0h0M874.9,795.3h0M876.7,797.2h0M878.5,799.0h0M880.3,800.6h0M882.0,801.9h0M883.8,803.2h0M885.6,804.3h0M887.4,805.2h0M889.2,806.1h0M890.9,806.9h0M892.7,807.5h0M894.5,808.2h0M896.3,808.7h0M898.1,809.2h0M899.9,809.6h0M901.6,810.2h0M903.4,810.6h0M905.2,811.1h0M907.0,811.5h0M908.8,811.9h0M910.5,812.2h0M912.3,812.5h0M914.1,812.8h0M915.9,813.1h0M917.7,813.3h0M919.5,813.6h0M921.2,813.8h0M923.0,814.0h0M924.8,814.2h0M926.6,814.3h0M928.4,814.5h0M930.1,814.6h0M931.9,814.8h0M933.7,814.9h0M935.5,815.0h0M937.3,815.1h0M939.1,815.2h0M940.8,815.3h0M942.6,815.4h0M944.4,815.5h0M946.2,815.6h0M948.0,815.6h0M949.7,815.7h0M951.5,815.8h0M953.3,815.9h0M955.1,815.9h0M956.9,816.0h0M958.7,816.1h0M960.4,816.2h0M962.2,816.2h0M964.0,816.3h0M965.8,816.3h0M967.6,816.4h0M969.4,816.4h0M971.1,816.5h0M972.9,816.5h0M974.7,816.6h0M976.5,816.6h0M978.3,816.7h0M980.0,816.7h0M981.8,816.7h0M983.6,816.8h0M985.4,816.8h0M987.2,816.8h0M989.0,816.9h0M990.7,816.9h0M992.5,816.9h0M994.3,816.9h0M996.1,817.0h0M997.9,817.0h0M999.6,817.0h0M1001.4,817.0h0M1003.2,817.0h0M1005.0,817.0h0M1006.8,817.1h0M1008.6,817.1h0M1010.3,817.1h0M1012.1,817.1h0M1013.9,817.1h0" fill="none" stroke="#858585" stroke-width="3.7" stroke-linecap="round"/>
<path d="M735.9,829.2h0M739.5,828.7h0M743.0,827.6h0M746.6,826.0h0M750.2,824.3h0M753.7,822.3h0M757.3,819.9h0M760.9,816.8h0M764.4,812.9h0M768.0,807.7h0M771.5,801.1h0M775.1,791.6h0M778.7,779.4h0M782.2,766.3h0M785.8,750.7h0M789.4,730.3h0M792.9,709.3h0M796.5,687.3h0M800.1,665.7h0M803.6,644.3h0M807.2,622.6h0M810.8,605.2h0M814.3,589.8h0M817.9,578.5h0M821.4,571.3h0M825.0,567.1h0M828.6,563.8h0M832.1,567.8h0M835.7,575.4h0M839.3,583.7h0M842.8,594.2h0M846.4,607.4h0M850.0,623.3h0M853.5,640.1h0M857.1,654.4h0M860.6,666.6h0M864.2,678.8h0M867.8,690.3h0M871.3,701.1h0M874.9,712.2h0M878.5,723.6h0M882.0,733.8h0M885.6,742.4h0M889.2,750.2h0M892.7,757.4h0M896.3,764.1h0M899.9,769.1h0M903.4,773.7h0M907.0,777.4h0M910.5,781.1h0M914.1,783.4h0M917.7,785.3h0M921.2,785.0h0M924.8,784.4h0M928.4,783.7h0M931.9,782.2h0M935.5,780.8h0M939.1,779.1h0M942.6,777.5h0M946.2,777.3h0M949.7,777.8h0M953.3,779.2h0M956.9,781.2h0M960.4,784.4h0M964.0,788.0h0M967.6,792.0h0M971.1,796.6h0M974.7,801.1h0M978.3,805.6h0M981.8,810.0h0M985.4,814.3h0M989.0,817.5h0M992.5,820.6h0M996.1,822.8h0M999.6,824.8h0M1003.2,826.3h0M1006.8,827.7h0M1010.3,828.5h0" fill="none" stroke="#0c0c0c" stroke-width="7" stroke-linecap="round"/>
<rect x="656.50" y="521.00" width="358.50" height="326.00" fill="none" stroke="#111" stroke-width="4"/>
<line x1="649.0" y1="847.0" x2="655.5" y2="847.0" stroke="#111" stroke-width="2.4"/>
<line x1="649.0" y1="774.5" x2="655.5" y2="774.5" stroke="#111" stroke-width="2.4"/>
<line x1="649.0" y1="702.0" x2="655.5" y2="702.0" stroke="#111" stroke-width="2.4"/>
<line x1="649.0" y1="629.5" x2="655.5" y2="629.5" stroke="#111" stroke-width="2.4"/>
<line x1="649.0" y1="557.0" x2="655.5" y2="557.0" stroke="#111" stroke-width="2.4"/>
<line x1="651.3" y1="810.8" x2="655.5" y2="810.8" stroke="#111" stroke-width="2"/>
<line x1="651.3" y1="738.2" x2="655.5" y2="738.2" stroke="#111" stroke-width="2"/>
<line x1="651.3" y1="665.8" x2="655.5" y2="665.8" stroke="#111" stroke-width="2"/>
<line x1="651.3" y1="593.2" x2="655.5" y2="593.2" stroke="#111" stroke-width="2"/>
<line x1="657.5" y1="848.0" x2="657.5" y2="854.5" stroke="#111" stroke-width="2.4"/>
<line x1="728.8" y1="848.0" x2="728.8" y2="854.5" stroke="#111" stroke-width="2.4"/>
<line x1="800.1" y1="848.0" x2="800.1" y2="854.5" stroke="#111" stroke-width="2.4"/>
<line x1="871.3" y1="848.0" x2="871.3" y2="854.5" stroke="#111" stroke-width="2.4"/>
<line x1="942.6" y1="848.0" x2="942.6" y2="854.5" stroke="#111" stroke-width="2.4"/>
<line x1="1013.9" y1="848.0" x2="1013.9" y2="854.5" stroke="#111" stroke-width="2.4"/>
<line x1="693.1" y1="848.0" x2="693.1" y2="852.2" stroke="#111" stroke-width="2"/>
<line x1="764.4" y1="848.0" x2="764.4" y2="852.2" stroke="#111" stroke-width="2"/>
<line x1="835.7" y1="848.0" x2="835.7" y2="852.2" stroke="#111" stroke-width="2"/>
<line x1="907.0" y1="848.0" x2="907.0" y2="852.2" stroke="#111" stroke-width="2"/>
<line x1="978.3" y1="848.0" x2="978.3" y2="852.2" stroke="#111" stroke-width="2"/>
<text x="646.5" y="852.0" font-size="14" font-weight="bold" fill="#111" stroke="#111" stroke-width="0.6" stroke-linejoin="round" text-anchor="end" textLength="7.9" lengthAdjust="spacingAndGlyphs" >0</text>
<text x="646.5" y="779.5" font-size="14" font-weight="bold" fill="#111" stroke="#111" stroke-width="0.6" stroke-linejoin="round" text-anchor="end" textLength="23.700000000000003" lengthAdjust="spacingAndGlyphs" >500</text>
<text x="646.5" y="707.0" font-size="14" font-weight="bold" fill="#111" stroke="#111" stroke-width="0.6" stroke-linejoin="round" text-anchor="end" textLength="31.6" lengthAdjust="spacingAndGlyphs" >1000</text>
<text x="646.5" y="634.5" font-size="14" font-weight="bold" fill="#111" stroke="#111" stroke-width="0.6" stroke-linejoin="round" text-anchor="end" textLength="31.6" lengthAdjust="spacingAndGlyphs" >1500</text>
<text x="646.5" y="562.0" font-size="14" font-weight="bold" fill="#111" stroke="#111" stroke-width="0.6" stroke-linejoin="round" text-anchor="end" textLength="31.6" lengthAdjust="spacingAndGlyphs" >2000</text>
<text x="658.3" y="872.5" font-size="15" font-weight="bold" fill="#111" stroke="#111" stroke-width="0.6" stroke-linejoin="round" text-anchor="middle" textLength="25" lengthAdjust="spacingAndGlyphs" >280</text>
<text x="729.5799999999999" y="872.5" font-size="15" font-weight="bold" fill="#111" stroke="#111" stroke-width="0.6" stroke-linejoin="round" text-anchor="middle" textLength="25" lengthAdjust="spacingAndGlyphs" >282</text>
<text x="800.8599999999999" y="872.5" font-size="15" font-weight="bold" fill="#111" stroke="#111" stroke-width="0.6" stroke-linejoin="round" text-anchor="middle" textLength="25" lengthAdjust="spacingAndGlyphs" >284</text>
<text x="872.14" y="872.5" font-size="15" font-weight="bold" fill="#111" stroke="#111" stroke-width="0.6" stroke-linejoin="round" text-anchor="middle" textLength="25" lengthAdjust="spacingAndGlyphs" >286</text>
<text x="943.42" y="872.5" font-size="15" font-weight="bold" fill="#111" stroke="#111" stroke-width="0.6" stroke-linejoin="round" text-anchor="middle" textLength="25" lengthAdjust="spacingAndGlyphs" >288</text>
<text x="1014.6999999999999" y="872.5" font-size="15" font-weight="bold" fill="#111" stroke="#111" stroke-width="0.6" stroke-linejoin="round" text-anchor="middle" textLength="25" lengthAdjust="spacingAndGlyphs" >290</text>
<text x="575.5" y="542" font-size="38" font-weight="bold" fill="#111" stroke="#111" stroke-width="0.75" stroke-linejoin="round" text-anchor="start" >e</text>
<text x="591.5" y="690.8" font-size="19.5" font-weight="bold" fill="#111" stroke="#111" stroke-width="0.75" stroke-linejoin="round" text-anchor="middle" textLength="163.3" lengthAdjust="spacingAndGlyphs" transform="rotate(-90 591.5 690.8)" >Intensity (a. u.)</text>
<text x="795.2" y="907.4" font-size="21.8" font-weight="bold" fill="#111" stroke="#111" stroke-width="0.75" stroke-linejoin="round" text-anchor="start" textLength="81.2" lengthAdjust="spacingAndGlyphs" >B.E. (eV)</text>
<rect x="880" y="532" width="132.5" height="80" fill="#111"/>
<rect x="876.7" y="529.2" width="130.5" height="78" fill="#fff" stroke="#c8c8c8" stroke-width="1.3"/>
<line x1="881" y1="540" x2="909" y2="540" stroke="#e0e0e0" stroke-width="1.6" stroke-dasharray="2 3"/>
<circle cx="895" cy="540" r="2.2" fill="#cfcfcf"/>
<text x="914" y="545" font-size="14" font-weight="bold" fill="#111" stroke="#111" stroke-width="0.6" stroke-linejoin="round" text-anchor="start" textLength="93" lengthAdjust="spacingAndGlyphs" >C-C (284.4 eV)</text>
<line x1="881" y1="560.5" x2="909" y2="560.5" stroke="#e0e0e0" stroke-width="1.6" stroke-dasharray="2 3"/>
<circle cx="895" cy="560.5" r="2.2" fill="#9a9a9a"/>
<text x="914" y="565.5" font-size="14" font-weight="bold" fill="#111" stroke="#111" stroke-width="0.6" stroke-linejoin="round" text-anchor="start" textLength="93" lengthAdjust="spacingAndGlyphs" >C-N (285.2 eV)</text>
<line x1="881" y1="580.5" x2="909" y2="580.5" stroke="#e0e0e0" stroke-width="1.6" stroke-dasharray="2 3"/>
<circle cx="895" cy="580.5" r="2.2" fill="#2b2b2b"/>
<text x="914" y="585.5" font-size="14" font-weight="bold" fill="#111" stroke="#111" stroke-width="0.6" stroke-linejoin="round" text-anchor="start" textLength="93" lengthAdjust="spacingAndGlyphs" >C-O (286.6 eV)</text>
<line x1="881" y1="600" x2="909" y2="600" stroke="#e0e0e0" stroke-width="1.6" stroke-dasharray="2 3"/>
<circle cx="895" cy="600" r="2.2" fill="#bdbdbd"/>
<text x="914" y="605" font-size="14" font-weight="bold" fill="#111" stroke="#111" stroke-width="0.6" stroke-linejoin="round" text-anchor="start" textLength="93" lengthAdjust="spacingAndGlyphs" >C=O(288.3 eV)</text>
</g>
<g id="panel-f">
<rect x="1068.50" y="506.00" width="524.00" height="416.00" fill="none" stroke="#0a0a0a" stroke-width="5"/>
<path d="M1153.5,834.0 C1156.1,832.6 1158.0,831.7 1163.2,828.8 C1168.4,825.9 1167.9,825.3 1173.0,823.0 C1178.1,820.7 1177.4,819.1 1182.5,820.0 C1187.6,820.9 1186.9,822.6 1192.0,826.2 C1197.1,829.8 1196.4,832.5 1201.5,833.5 C1206.6,834.5 1206.1,832.9 1211.2,829.8 C1216.3,826.7 1215.7,825.7 1220.8,821.8 C1225.9,817.9 1225.2,817.5 1230.3,815.0 C1235.4,812.5 1234.7,814.0 1240.0,812.5 C1245.3,811.0 1244.8,813.8 1250.0,809.2 C1255.2,804.6 1254.6,803.8 1259.6,795.2 C1264.6,786.6 1263.9,787.1 1268.9,777.0 C1273.9,766.9 1273.2,769.4 1278.3,757.2 C1283.4,745.0 1283.0,747.7 1288.2,731.2 C1293.4,714.7 1292.8,715.2 1297.9,695.3 C1303.0,675.4 1302.4,675.9 1307.5,656.4 C1312.6,636.9 1312.0,639.5 1317.1,622.2 C1322.2,604.9 1321.7,604.7 1326.8,591.7 C1331.9,578.7 1331.0,578.1 1336.2,573.3 C1341.4,568.5 1341.1,567.9 1346.3,573.8 C1351.5,579.7 1350.7,581.9 1355.7,595.3 C1360.7,608.7 1360.0,608.0 1365.0,623.9 C1370.0,639.8 1369.3,637.8 1374.5,655.0 C1379.7,672.2 1379.1,669.9 1384.4,688.3 C1389.7,706.7 1389.0,705.6 1394.2,724.0 C1399.4,742.4 1398.7,742.1 1403.8,757.3 C1408.9,772.5 1408.2,770.1 1413.2,781.0 C1418.2,791.9 1417.6,790.4 1422.7,798.2 C1427.8,806.0 1427.2,805.1 1432.3,810.4 C1437.4,815.7 1436.9,814.1 1442.0,818.0 C1447.1,821.9 1446.2,822.2 1451.3,825.0 C1456.4,827.8 1455.7,827.4 1461.0,828.5 C1466.3,829.6 1465.9,828.5 1471.0,829.0 C1476.1,829.5 1475.2,828.4 1480.3,830.3 C1485.4,832.2 1484.9,834.5 1490.0,836.3 C1495.1,838.1 1494.4,837.3 1499.5,837.0 C1504.6,836.7 1503.8,836.1 1509.0,835.0 C1514.2,833.9 1513.9,834.1 1519.0,833.0 C1524.1,831.9 1523.3,832.2 1528.3,831.0 C1533.3,829.8 1532.6,829.7 1537.7,828.5 C1542.8,827.3 1542.3,827.4 1547.4,826.5 C1552.5,825.6 1552.0,825.4 1557.0,825.0 C1562.0,824.6 1561.2,823.9 1566.3,825.0 C1571.4,826.1 1573.4,827.9 1576.0,829.0" fill="none" stroke="#c4c4c4" stroke-width="2"/>
<path d="M1150.0,841.0 C1163.3,840.6 1176.0,840.5 1200.0,839.5 C1224.0,838.5 1225.2,838.3 1240.0,837.4 C1254.8,836.5 1245.7,837.3 1255.6,836.2 C1265.5,835.1 1267.4,835.4 1277.3,833.1 C1287.2,830.8 1286.3,831.1 1292.9,827.5 C1299.5,823.9 1298.1,824.7 1302.2,819.7 C1306.3,814.7 1305.1,816.3 1308.4,808.8 C1311.7,801.3 1312.2,800.0 1314.7,791.7 C1317.2,783.4 1316.1,787.2 1317.8,777.7 C1319.5,768.2 1319.2,769.3 1320.9,756.0 C1322.6,742.7 1322.3,744.6 1324.0,728.0 C1325.7,711.4 1325.4,713.6 1327.1,693.7 C1328.8,673.8 1328.5,676.5 1330.2,653.3 C1331.9,630.1 1331.9,624.9 1333.3,606.7 C1334.7,588.5 1334.3,592.5 1335.3,585.0 C1336.3,577.5 1336.1,578.7 1337.0,578.7 C1337.9,578.7 1337.7,577.5 1338.8,585.0 C1339.9,592.5 1339.4,588.5 1341.1,606.7 C1342.8,624.9 1343.0,630.1 1345.1,653.3 C1347.2,676.5 1346.9,673.8 1348.9,693.7 C1350.9,713.6 1350.5,710.6 1352.6,728.0 C1354.7,745.4 1354.4,744.1 1356.6,759.0 C1358.8,773.9 1358.6,773.2 1360.7,784.0 C1362.8,794.8 1361.8,792.0 1364.4,799.5 C1367.0,807.0 1366.4,806.2 1370.6,812.0 C1374.8,817.8 1373.4,817.0 1380.0,821.3 C1386.6,825.6 1386.4,825.2 1395.5,828.1 C1404.6,831.0 1402.3,830.7 1414.2,832.2 C1426.1,833.7 1417.1,833.1 1440.0,833.7 C1462.9,834.3 1463.2,834.3 1500.0,834.5 C1536.8,834.7 1557.2,834.5 1578.0,834.5" fill="none" stroke="#bcbcbc" stroke-width="2.4"/>
<path d="M1150.0,835.9 L1154.0,835.6 L1158.0,835.4 L1162.0,835.2 L1166.0,834.9 L1170.0,834.6 L1174.0,834.3 L1178.0,833.9 L1182.0,833.5 L1186.0,833.1 L1190.0,832.6 L1194.0,832.0 L1198.0,831.4 L1202.0,830.7 L1206.0,829.9 L1210.0,829.0 L1214.0,828.0 L1218.0,826.8 L1222.0,825.4 L1226.0,823.9 L1230.0,822.1 L1234.0,820.0 L1238.0,817.7 L1242.0,815.1 L1246.0,812.3 L1250.0,809.4 L1254.0,806.6 L1258.0,804.1 L1262.0,802.1 L1266.0,801.1 L1270.0,801.0 L1274.0,802.0 L1278.0,803.9 L1282.0,806.3 L1286.0,809.1 L1290.0,811.9 L1294.0,814.6 L1298.0,817.1 L1302.0,819.4 L1306.0,821.4 L1310.0,823.1 L1314.0,824.6 L1318.0,825.9 L1322.0,827.0 L1326.0,827.9 L1330.0,828.8 L1334.0,829.5 L1338.0,830.1 L1342.0,830.7 L1346.0,831.1 L1350.0,831.6 L1354.0,831.9 L1358.0,832.2 L1362.0,832.5 L1366.0,832.8 L1370.0,833.0 L1374.0,833.2 L1378.0,833.4 L1382.0,833.5 L1386.0,833.7 L1390.0,833.8 L1394.0,833.9 L1398.0,834.0 L1402.0,834.1 L1406.0,834.1 L1410.0,834.2 L1414.0,834.3 L1418.0,834.3 L1422.0,834.4 L1426.0,834.4 L1430.0,834.4 L1434.0,834.5 L1438.0,834.5 L1442.0,834.5 L1446.0,834.5 L1450.0,834.5 L1454.0,834.6 L1458.0,834.6 L1462.0,834.6 L1466.0,834.6 L1470.0,834.6 L1474.0,834.6 L1478.0,834.6 L1482.0,834.6 L1486.0,834.6 L1490.0,834.5 L1494.0,834.5 L1498.0,834.5 L1502.0,834.5 L1506.0,834.5 L1510.0,834.5 L1514.0,834.5 L1518.0,834.5 L1522.0,834.4 L1526.0,834.4 L1530.0,834.4 L1534.0,834.4 L1538.0,834.4 L1542.0,834.3 L1546.0,834.3 L1550.0,834.3 L1554.0,834.3 L1558.0,834.2 L1562.0,834.2 L1566.0,834.2 L1570.0,834.2 L1574.0,834.1 L1578.0,834.1" fill="none" stroke="#6d6d6d" stroke-width="2.3" stroke-dasharray="7 2.5 2 2.5"/>
<path d="M1153.5,834.0h0M1163.2,828.8h0M1173.0,823.0h0M1182.5,820.0h0M1192.0,826.2h0M1201.5,833.5h0M1211.2,829.8h0M1220.8,821.8h0M1230.3,815.0h0M1240.0,812.5h0M1250.0,809.2h0M1259.6,795.2h0M1268.9,777.0h0M1278.3,757.2h0M1288.2,731.2h0M1297.9,695.3h0M1307.5,656.4h0M1317.1,622.2h0M1326.8,591.7h0M1336.2,573.3h0M1346.3,573.8h0M1355.7,595.3h0M1365.0,623.9h0M1374.5,655.0h0M1384.4,688.3h0M1394.2,724.0h0M1403.8,757.3h0M1413.2,781.0h0M1422.7,798.2h0M1432.3,810.4h0M1442.0,818.0h0M1451.3,825.0h0M1461.0,828.5h0M1471.0,829.0h0M1480.3,830.3h0M1490.0,836.3h0M1499.5,837.0h0M1509.0,835.0h0M1519.0,833.0h0M1528.3,831.0h0M1537.7,828.5h0M1547.4,826.5h0M1557.0,825.0h0M1566.3,825.0h0M1576.0,829.0h0" fill="none" stroke="#0c0c0c" stroke-width="7.8" stroke-linecap="round"/>
<rect x="1148.00" y="527.60" width="432.50" height="323.40" fill="none" stroke="#111" stroke-width="4"/>
<line x1="1140.5" y1="851.0" x2="1147.0" y2="851.0" stroke="#111" stroke-width="2.4"/>
<line x1="1140.5" y1="797.0" x2="1147.0" y2="797.0" stroke="#111" stroke-width="2.4"/>
<line x1="1140.5" y1="743.0" x2="1147.0" y2="743.0" stroke="#111" stroke-width="2.4"/>
<line x1="1140.5" y1="689.0" x2="1147.0" y2="689.0" stroke="#111" stroke-width="2.4"/>
<line x1="1140.5" y1="635.0" x2="1147.0" y2="635.0" stroke="#111" stroke-width="2.4"/>
<line x1="1140.5" y1="581.0" x2="1147.0" y2="581.0" stroke="#111" stroke-width="2.4"/>
<line x1="1140.5" y1="527.0" x2="1147.0" y2="527.0" stroke="#111" stroke-width="2.4"/>
<line x1="1142.8" y1="824.0" x2="1147.0" y2="824.0" stroke="#111" stroke-width="2"/>
<line x1="1142.8" y1="770.0" x2="1147.0" y2="770.0" stroke="#111" stroke-width="2"/>
<line x1="1142.8" y1="716.0" x2="1147.0" y2="716.0" stroke="#111" stroke-width="2"/>
<line x1="1142.8" y1="662.0" x2="1147.0" y2="662.0" stroke="#111" stroke-width="2"/>
<line x1="1142.8" y1="608.0" x2="1147.0" y2="608.0" stroke="#111" stroke-width="2"/>
<line x1="1142.8" y1="554.0" x2="1147.0" y2="554.0" stroke="#111" stroke-width="2"/>
<line x1="1148.0" y1="852.0" x2="1148.0" y2="859.5" stroke="#111" stroke-width="2.4"/>
<line x1="1243.8" y1="852.0" x2="1243.8" y2="859.5" stroke="#111" stroke-width="2.4"/>
<line x1="1339.6" y1="852.0" x2="1339.6" y2="859.5" stroke="#111" stroke-width="2.4"/>
<line x1="1435.3" y1="852.0" x2="1435.3" y2="859.5" stroke="#111" stroke-width="2.4"/>
<line x1="1531.1" y1="852.0" x2="1531.1" y2="859.5" stroke="#111" stroke-width="2.4"/>
<line x1="1195.9" y1="852.0" x2="1195.9" y2="856.6" stroke="#111" stroke-width="2.2"/>
<line x1="1291.7" y1="852.0" x2="1291.7" y2="856.6" stroke="#111" stroke-width="2.2"/>
<line x1="1387.4" y1="852.0" x2="1387.4" y2="856.6" stroke="#111" stroke-width="2.2"/>
<line x1="1483.2" y1="852.0" x2="1483.2" y2="856.6" stroke="#111" stroke-width="2.2"/>
<line x1="1579.0" y1="852.0" x2="1579.0" y2="856.6" stroke="#111" stroke-width="2.2"/>
<text x="1135.5" y="856.4" font-size="15.5" font-weight="bold" fill="#111" stroke="#111" stroke-width="0.6" stroke-linejoin="round" text-anchor="end" textLength="26" lengthAdjust="spacingAndGlyphs" >300</text>
<text x="1135.5" y="802.4" font-size="15.5" font-weight="bold" fill="#111" stroke="#111" stroke-width="0.6" stroke-linejoin="round" text-anchor="end" textLength="26" lengthAdjust="spacingAndGlyphs" >400</text>
<text x="1135.5" y="748.4" font-size="15.5" font-weight="bold" fill="#111" stroke="#111" stroke-width="0.6" stroke-linejoin="round" text-anchor="end" textLength="26" lengthAdjust="spacingAndGlyphs" >500</text>
<text x="1135.5" y="694.4" font-size="15.5" font-weight="bold" fill="#111" stroke="#111" stroke-width="0.6" stroke-linejoin="round" text-anchor="end" textLength="26" lengthAdjust="spacingAndGlyphs" >600</text>
<text x="1135.5" y="640.4" font-size="15.5" font-weight="bold" fill="#111" stroke="#111" stroke-width="0.6" stroke-linejoin="round" text-anchor="end" textLength="26" lengthAdjust="spacingAndGlyphs" >700</text>
<text x="1135.5" y="586.4" font-size="15.5" font-weight="bold" fill="#111" stroke="#111" stroke-width="0.6" stroke-linejoin="round" text-anchor="end" textLength="26" lengthAdjust="spacingAndGlyphs" >800</text>
<text x="1135.5" y="532.4" font-size="15.5" font-weight="bold" fill="#111" stroke="#111" stroke-width="0.6" stroke-linejoin="round" text-anchor="end" textLength="26" lengthAdjust="spacingAndGlyphs" >900</text>
<text x="1148.0" y="877" font-size="16" font-weight="bold" fill="#111" stroke="#111" stroke-width="0.6" stroke-linejoin="round" text-anchor="middle" textLength="28.5" lengthAdjust="spacingAndGlyphs" >396</text>
<text x="1243.7777777777778" y="877" font-size="16" font-weight="bold" fill="#111" stroke="#111" stroke-width="0.6" stroke-linejoin="round" text-anchor="middle" textLength="28.5" lengthAdjust="spacingAndGlyphs" >398</text>
<text x="1339.5555555555557" y="877" font-size="16" font-weight="bold" fill="#111" stroke="#111" stroke-width="0.6" stroke-linejoin="round" text-anchor="middle" textLength="28.5" lengthAdjust="spacingAndGlyphs" >400</text>
<text x="1435.3333333333333" y="877" font-size="16" font-weight="bold" fill="#111" stroke="#111" stroke-width="0.6" stroke-linejoin="round" text-anchor="middle" textLength="28.5" lengthAdjust="spacingAndGlyphs" >402</text>
<text x="1531.111111111111" y="877" font-size="16" font-weight="bold" fill="#111" stroke="#111" stroke-width="0.6" stroke-linejoin="round" text-anchor="middle" textLength="28.5" lengthAdjust="spacingAndGlyphs" >404</text>
<text x="1083.8" y="546" font-size="34.5" font-weight="bold" fill="#111" stroke="#111" stroke-width="0.75" stroke-linejoin="round" text-anchor="start" textLength="15" lengthAdjust="spacingAndGlyphs" >f</text>
<text x="1094.3" y="697.6" font-size="23" font-weight="bold" fill="#111" stroke="#111" stroke-width="0.75" stroke-linejoin="round" text-anchor="middle" textLength="174.6" lengthAdjust="spacingAndGlyphs" transform="rotate(-90 1094.3 697.6)" >Intensity (a. u.)</text>
<text x="1315.5" y="911.5" font-size="21" font-weight="bold" fill="#111" stroke="#111" stroke-width="0.75" stroke-linejoin="round" text-anchor="start" textLength="97" lengthAdjust="spacingAndGlyphs" >B.E. (eV)</text>
<rect x="1410" y="548" width="160.8" height="84" fill="#111"/>
<rect x="1405.7" y="542.7" width="160" height="84.5" fill="#fff" stroke="#cdcdcd" stroke-width="1.3"/>
<line x1="1420" y1="556.5" x2="1457.5" y2="556.5" stroke="#6d6d6d" stroke-width="2.4" stroke-dasharray="9 3 3 3"/>
<line x1="1420" y1="595.5" x2="1457.5" y2="595.5" stroke="#c4c4c4" stroke-width="2.4" stroke-dasharray="9 3 3 3"/>
<text x="1464" y="563.5" font-size="15.5" font-weight="bold" fill="#111" stroke="#111" stroke-width="0.6" stroke-linejoin="round" text-anchor="start" textLength="80.5" lengthAdjust="spacingAndGlyphs" >Pyridine N</text>
<text x="1462.5" y="582.5" font-size="15.5" font-weight="bold" fill="#111" stroke="#111" stroke-width="0.6" stroke-linejoin="round" text-anchor="start" textLength="77" lengthAdjust="spacingAndGlyphs" >(398.5 eV)</text>
<text x="1464" y="602.3" font-size="15.5" font-weight="bold" fill="#111" stroke="#111" stroke-width="0.6" stroke-linejoin="round" text-anchor="start" textLength="77" lengthAdjust="spacingAndGlyphs" >Pyrrolic N</text>
<text x="1462.5" y="622" font-size="15.5" font-weight="bold" fill="#111" stroke="#111" stroke-width="0.6" stroke-linejoin="round" text-anchor="start" textLength="63.5" lengthAdjust="spacingAndGlyphs" >(401 eV)</text>
</g>
</svg>
</body></html>
